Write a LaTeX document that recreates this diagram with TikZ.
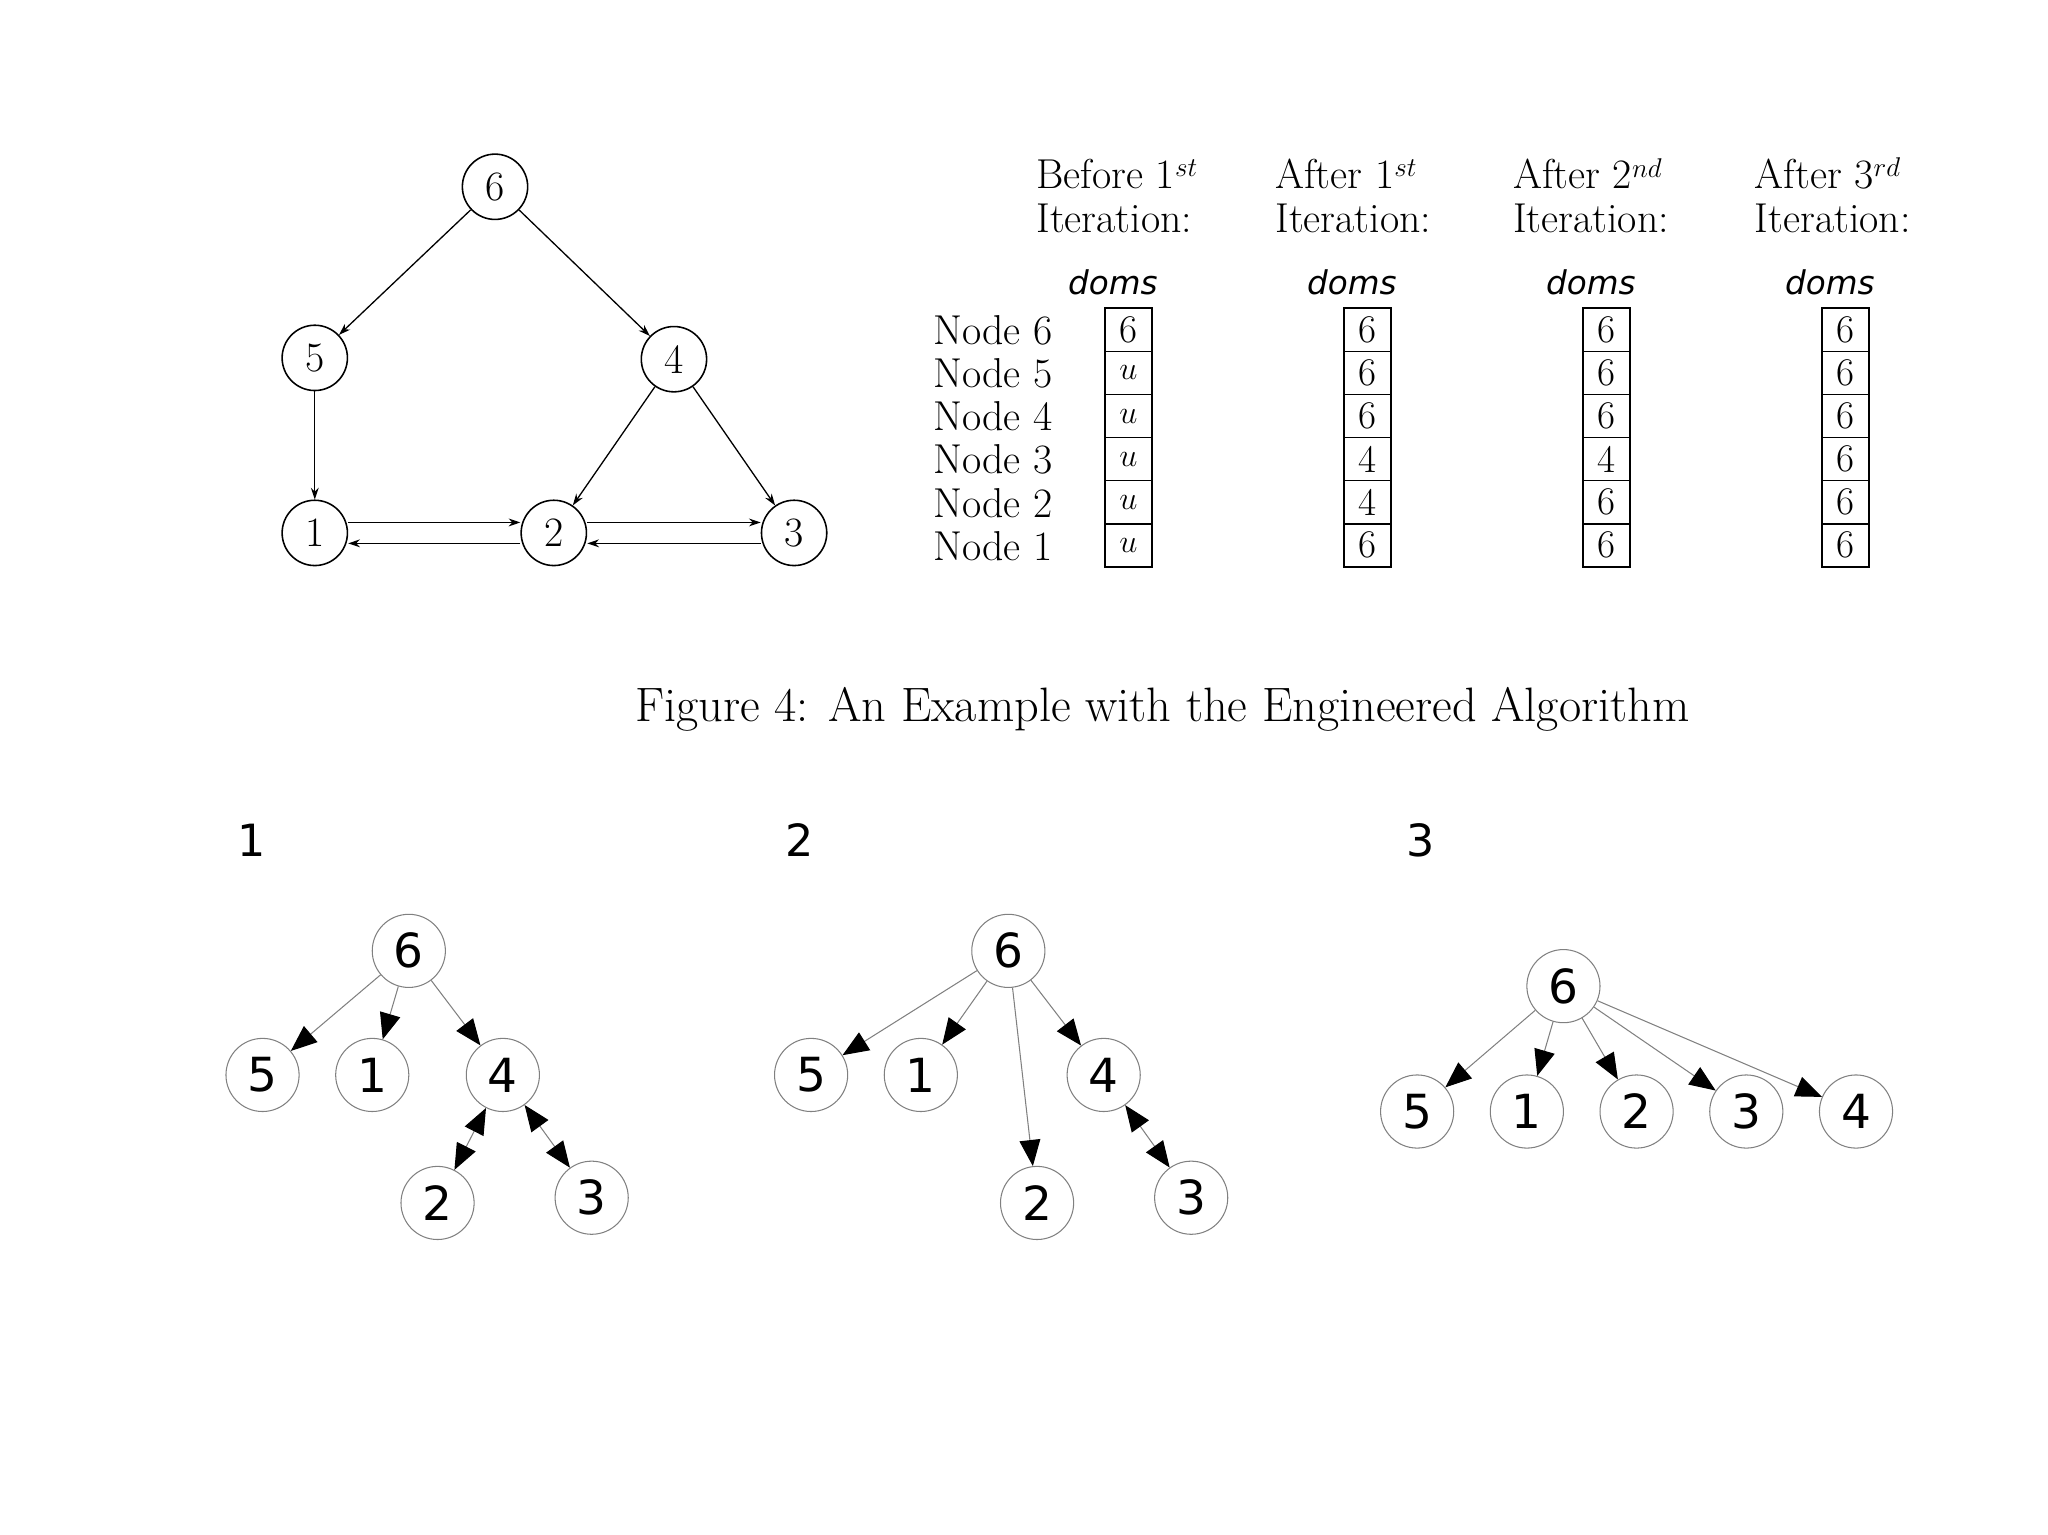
\documentclass[tikz,border=0pt]{standalone}
\usepackage{fontspec}
\newfontfamily\dejavu{DejaVu Sans}
\usetikzlibrary{arrows.meta}
\begin{document}
\begin{tikzpicture}[x=1pt,y=-1pt,
  tn/.style={circle,draw,line width=1.2pt,minimum size=50pt,inner sep=0pt,font=\fontsize{32}{34}\selectfont},
  te/.style={line width=1pt,-{Stealth[length=9pt,width=6pt]}},
  bn/.style={circle,draw=gray,line width=0.8pt,minimum size=56pt,inner sep=0pt,font=\dejavu\fontsize{36}{38}\selectfont},
  be/.style={draw=gray,line width=0.8pt,-{Triangle[length=20pt,width=16pt,fill=black,color=black]}},
  bb/.style={draw=gray,line width=0.8pt,{Triangle[length=20pt,width=16pt,fill=black,color=black]}-{Triangle[length=20pt,width=16pt,fill=black,color=black]}},
  hd/.style={anchor=west,font=\fontsize{32}{34}\selectfont},
  bx/.style={draw,line width=1.2pt,minimum width=36pt,minimum height=33pt,inner sep=0pt,font=\fontsize{30}{32}\selectfont},
  dm/.style={font=\fontsize{25}{27}\selectfont\dejavu\itshape},
  lb/.style={font=\dejavu\fontsize{34}{36}\selectfont}]
\useasboundingbox (0,0) rectangle (1568,1175);
% top graph
\node[tn] (t6) at (379,143) {6};
\node[tn] (t5) at (241,274) {5};
\node[tn] (t4) at (516,275) {4};
\node[tn] (t1) at (241,408) {1};
\node[tn] (t2) at (424,408) {2};
\node[tn] (t3) at (608,408) {3};
\draw[te] (t6)--(t5);
\draw[te] (t6)--(t4);
\draw[te] (t5)--(t1);
\draw[te] (t4)--(t2);
\draw[te] (t4)--(t3);
\draw[te] ([yshift=8pt]t1.east)--([yshift=8pt]t2.west);
\draw[te] ([yshift=-8pt]t2.west)--([yshift=-8pt]t1.east);
\draw[te] ([yshift=8pt]t2.east)--([yshift=8pt]t3.west);
\draw[te] ([yshift=-8pt]t3.west)--([yshift=-8pt]t2.east);
% table headers
\node[hd] (h1a) at (790,133) {Before 1$^{st}$};
\node[hd] (h1b) at (790,167) {Iteration:};
\node[hd] (h2a) at (973,133) {After 1$^{st}$};
\node[hd] (h2b) at (973,167) {Iteration:};
\node[hd] (h3a) at (1155,133) {After 2$^{nd}$};
\node[hd] (h3b) at (1155,167) {Iteration:};
\node[hd] (h4a) at (1340,133) {After 3$^{rd}$};
\node[hd] (h4b) at (1340,167) {Iteration:};
\node[dm] (d1) at (852,216) {doms};
\node[dm] (d2) at (1035,216) {doms};
\node[dm] (d3) at (1218,216) {doms};
\node[dm] (d4) at (1401,216) {doms};
\foreach \n/\y in {6/253,5/286,4/319,3/352,2/385,1/418}
  \node[hd] (r\n) at (711,\y) {Node \n};
\foreach \x/\vals [count=\c] in {864/{6,$u$,$u$,$u$,$u$,$u$},1047/{6,6,6,4,4,6},1230/{6,6,6,4,6,6},1413/{6,6,6,6,6,6}}
  \foreach \v [count=\r] in \vals
    \node[bx] (b\c-\r) at (\x,{219.5+33*\r}) {\v};
\node[font=\fontsize{37}{39}\selectfont] (cap) at (890,543) {Figure 4: An Example with the Engineered Algorithm};
% bottom
\node[lb] (l1) at (193,643) {1};
\node[lb] (l2) at (612,643) {2};
\node[lb] (l3) at (1088,643) {3};
\node[bn] (a6) at (313,728) {6};
\node[bn] (a5) at (201,823) {5};
\node[bn] (a1) at (285,823) {1};
\node[bn] (a4) at (385,823) {4};
\node[bn] (a2) at (335,921) {2};
\node[bn] (a3) at (453,917) {3};
\draw[be] (a6)--(a5); \draw[be] (a6)--(a1); \draw[be] (a6)--(a4);
\draw[bb] (a4)--(a2); \draw[bb] (a4)--(a3);
\node[bn] (c6) at (772,728) {6};
\node[bn] (c5) at (621,823) {5};
\node[bn] (c1) at (705,823) {1};
\node[bn] (c4) at (845,823) {4};
\node[bn] (c2) at (794,921) {2};
\node[bn] (c3) at (912,917) {3};
\draw[be] (c6)--(c5); \draw[be] (c6)--(c1); \draw[be] (c6)--(c4); \draw[be] (c6)--(c2);
\draw[bb] (c4)--(c3);
\node[bn] (e6) at (1197,755) {6};
\node[bn] (e5) at (1085,851) {5};
\node[bn] (e1) at (1169,851) {1};
\node[bn] (e2) at (1253,851) {2};
\node[bn] (e3) at (1337,851) {3};
\node[bn] (e4) at (1421,851) {4};
\foreach \t in {5,1,2,3,4} \draw[be] (e6)--(e\t);
\end{tikzpicture}
\end{document}
